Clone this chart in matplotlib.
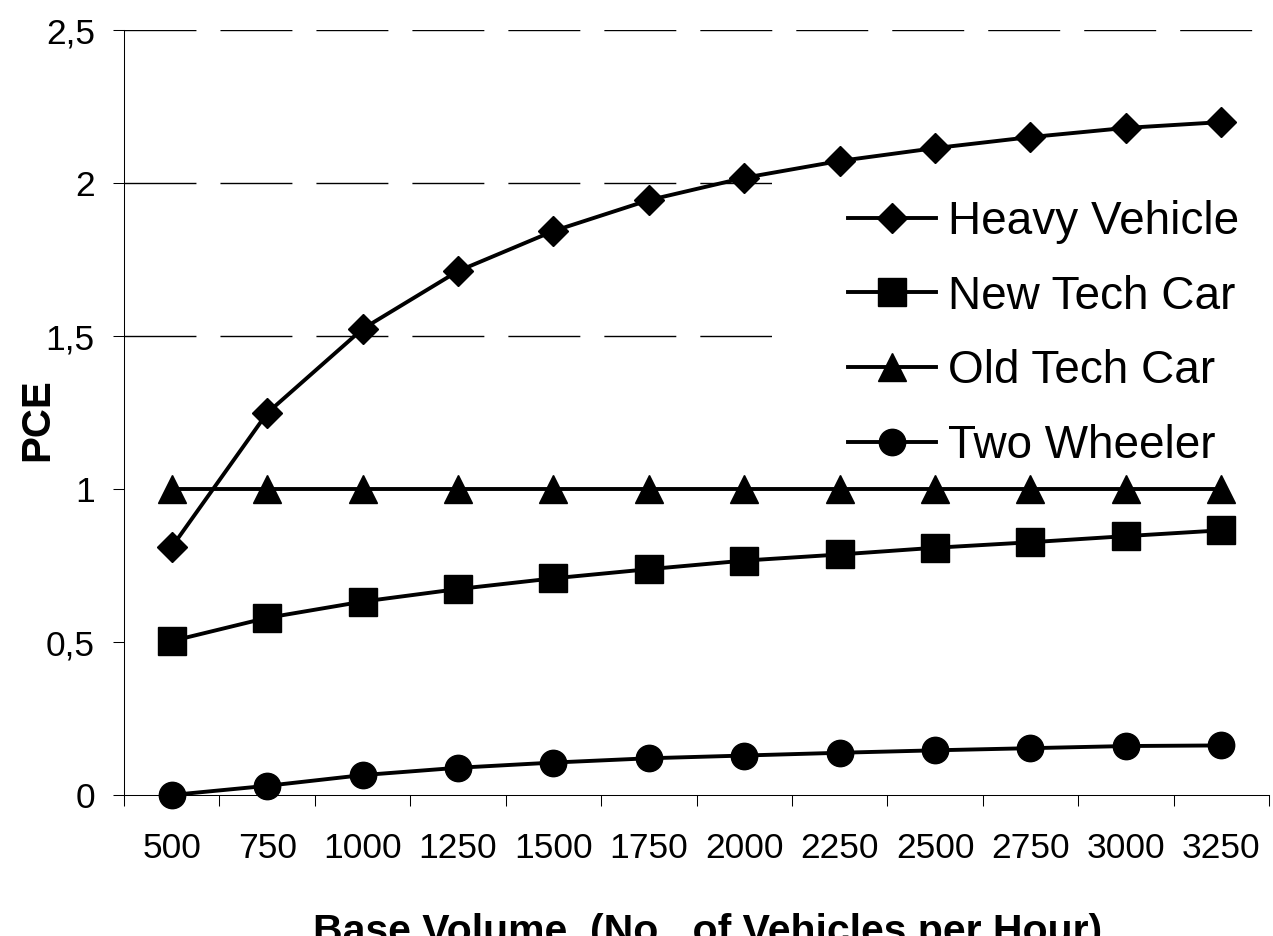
import matplotlib.pyplot as plt
from matplotlib.patches import Rectangle

plt.rcParams['font.family'] = ['Liberation Sans', 'DejaVu Sans']

volumes = ['500', '750', '1000', '1250', '1500', '1750',
           '2000', '2250', '2500', '2750', '3000', '3250']
heavy_vehicle = [0.81, 1.248, 1.523, 1.712, 1.843, 1.944,
                 2.017, 2.072, 2.114, 2.150, 2.180, 2.199]
new_tech_car = [0.503, 0.579, 0.632, 0.673, 0.708, 0.738,
                0.766, 0.786, 0.808, 0.826, 0.846, 0.865]
old_tech_car = [1.0] * 12
two_wheeler = [0.0, 0.030, 0.065, 0.089, 0.106, 0.120,
               0.129, 0.138, 0.146, 0.153, 0.160, 0.162]
y_ticks = [0, 0.5, 1, 1.5, 2, 2.5]
y_labels = ['0', '0,5', '1', '1,5', '2', '2,5']
grid_levels = [1.5, 2.0, 2.5]

fig = plt.figure(figsize=(12.73, 9.36), dpi=100)
ax = fig.add_axes([124 / 1273, 1 - 795 / 936, 1145 / 1273, 765 / 936])

x = list(range(len(volumes)))
series = [
    (heavy_vehicle, 'D', 15.5, 'Heavy Vehicle'),
    (new_tech_car, 's', 20, 'New Tech Car'),
    (old_tech_car, '^', 20, 'Old Tech Car'),
    (two_wheeler, 'o', 19, 'Two Wheeler'),
]
for vals, mk, ms, lab in series:
    ax.plot(x, vals, color='black', lw=2.8, marker=mk, ms=ms,
            mfc='black', mec='black', mew=1, label=lab, zorder=3,
            clip_on=False)

# dashed grid lines
for lev in grid_levels:
    ax.axhline(lev, color='black', lw=1.0, ls=(0, (51.8, 17.3)), zorder=0.5)

# white legend background hides part of the grid
ax.add_patch(Rectangle((0.566, 0.427), 0.434, 0.377, transform=ax.transAxes,
                       facecolor='white', edgecolor='none', zorder=1))

ax.set_xlim(-0.5, len(volumes) - 0.5)
ax.set_ylim(0, 2.5)

ax.set_xticks([i - 0.5 for i in range(len(volumes) + 1)])
ax.set_xticklabels([])
ax.set_xticks(x, minor=True)
ax.set_xticklabels(volumes, minor=True)
ax.tick_params(axis='x', which='major', direction='out', length=8, width=0.75)
ax.tick_params(axis='x', which='minor', length=0, pad=27, labelsize=25.5)

ax.set_yticks(y_ticks)
ax.set_yticklabels(y_labels)
ax.tick_params(axis='y', direction='out', length=8, width=0.75, pad=13,
               labelsize=25.5)

for side in ['top', 'right']:
    ax.spines[side].set_visible(False)
for side in ['left', 'bottom']:
    ax.spines[side].set_linewidth(0.75)

ax.legend(loc='upper left', bbox_to_anchor=(0.632, 0.778), frameon=False,
          fontsize=33, borderpad=0, borderaxespad=0, handlelength=1.93,
          handletextpad=0.26, labelspacing=0.67, numpoints=1)

fig.text(37 / 1273, 1 - 420 / 936, 'PCE', rotation=90, fontsize=29,
         fontweight='bold', ha='center', va='center')
fig.text(708 / 1273, 1 - 943 / 936, 'Base Volume  (No.  of Vehicles per Hour)',
         fontsize=29.5, fontweight='bold', ha='center', va='baseline')

fig.savefig('out.png', dpi=100)
